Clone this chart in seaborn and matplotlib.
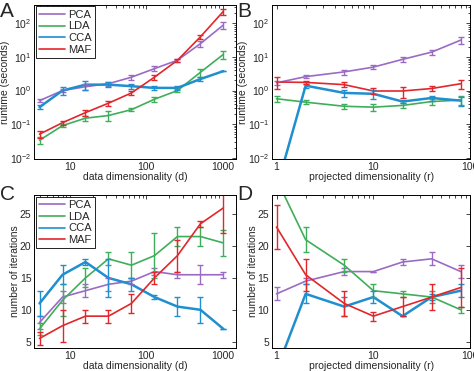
import numpy as np
import pandas as pd
import matplotlib
matplotlib.use('Agg')
import matplotlib.pyplot as plt
import seaborn as sns

methods = ['PCA', 'LDA', 'CCA', 'MAF']
colors = {'PCA': '#9b6bc4', 'LDA': '#3fae5a', 'CCA': '#1f8fcf', 'MAF': '#e3262b'}

d_vals = [4, 8, 16, 32, 64, 128, 256, 512, 1024]
r_vals = [1, 2, 5, 10, 20, 40, 80]

# A: runtime vs data dimensionality
rt_d = {
    'PCA': [0.5, 1.0, 1.3, 1.6, 2.5, 4.5, 8, 25, 90],
    'LDA': [0.033, 0.09, 0.15, 0.18, 0.27, 0.55, 1.0, 3.5, 12],
    'CCA': [0.32, 1.0, 1.5, 1.5, 1.35, 1.2, 1.2, 2.2, 3.8],
    'MAF': [0.05, 0.11, 0.22, 0.42, 0.85, 2.5, 8, 40, 230],
}
rt_d_err = {
    'PCA': [0.05, 0.1, 0.25, 0.25, 0.4, 0.8, 1, 5, 20],
    'LDA': [0.008, 0.01, 0.03, 0.06, 0.03, 0.1, 0.1, 1.0, 3.5],
    'CCA': [0.04, 0.25, 0.45, 0.25, 0.25, 0.15, 0.15, 0.3, 0.1],
    'MAF': [0.012, 0.015, 0.04, 0.08, 0.1, 0.5, 1, 6, 45],
}

# B: runtime vs projected dimensionality
rt_r = {
    'PCA': [1.7, 2.6, 3.6, 5, 8.5, 14, 32],
    'LDA': [0.57, 0.45, 0.34, 0.32, 0.36, 0.47, 0.52],
    'CCA': [0.0012, 1.4, 0.85, 0.8, 0.47, 0.6, 0.5],
    'MAF': [1.8, 1.75, 1.5, 0.97, 0.97, 1.15, 1.6],
}
rt_r_err = {
    'PCA': [0.2, 0.3, 0.6, 0.6, 1.3, 2.5, 7],
    'LDA': [0.1, 0.06, 0.05, 0.07, 0.06, 0.1, 0.15],
    'CCA': [0, 0.2, 0.2, 0.25, 0.05, 0.1, 0.15],
    'MAF': [0.7, 0.2, 0.25, 0.2, 0.35, 0.2, 0.5],
}

# C: iterations vs data dimensionality
it_d = {
    'PCA': [8, 12, 13, 14, 14.5, 16, 15.5, 15.5, 15.5],
    'LDA': [7, 11.5, 15, 18, 17, 18.5, 21.5, 21.5, 20.5],
    'CCA': [11, 15.5, 17.5, 15, 14, 12, 10.5, 10, 7],
    'MAF': [5.5, 7.5, 9, 9, 11, 15, 18.5, 23.5, 26],
}
it_d_err = {
    'PCA': [1, 1, 1, 1, 0.5, 0.5, 0.5, 1.5, 0.5],
    'LDA': [1, 2.5, 1.5, 1, 2, 3.5, 1.5, 1.5, 2],
    'CCA': [2, 1.5, 0.5, 3, 1, 0.3, 1.5, 2, 0],
    'MAF': [1, 2.5, 1, 1, 1.5, 1, 2.5, 0.5, 4],
}

# D: iterations vs projected dimensionality
it_r = {
    'PCA': [12.5, 14.5, 16, 16, 17.5, 18, 16],
    'LDA': [30.5, 21, 17, 13, 12.5, 12, 10],
    'CCA': [0.5, 12.5, 10.5, 12, 9, 12, 13],
    'MAF': [23, 15.5, 11, 9, 10.5, 12, 13.5],
}
it_r_err = {
    'PCA': [1, 0.5, 0.5, 0, 0.5, 1, 1],
    'LDA': [0, 2, 1, 1, 0.5, 1, 0.5],
    'CCA': [0, 1.5, 1.5, 1, 0, 0.5, 1],
    'MAF': [3.5, 2.5, 2, 0.7, 1.5, 2, 3],
}

sns.set_style('white')
plt.rcParams['font.family'] = ['Liberation Sans', 'DejaVu Sans']
plt.rcParams['font.size'] = 7.5
plt.rcParams['mathtext.fontset'] = 'custom'
plt.rcParams['mathtext.rm'] = 'Liberation Sans'


def to_long(xs, vals, errs):
    rows = []
    for m in methods:
        for x, y, e in zip(xs, vals[m], errs[m]):
            rows.append({'x': x, 'y': y, 'err': e, 'method': m})
    return pd.DataFrame(rows)


def panel(ax, df, logy, xlabel, ylabel, xlim, ylim, legend):
    sns.lineplot(data=df, x='x', y='y', hue='method', hue_order=methods,
                 palette=colors, ax=ax, legend=legend, linewidth=1.2)
    for line, m in zip(ax.get_lines(), methods):
        if m == 'CCA':
            line.set_linewidth(1.8)
    for m in methods:
        sub = df[df['method'] == m]
        ax.errorbar(sub['x'], sub['y'], yerr=sub['err'], fmt='none',
                    ecolor=colors[m], elinewidth=1.0, capsize=2.2, capthick=1.0)
    ax.set_xscale('log')
    if logy:
        ax.set_yscale('log')
    ax.set_xlim(*xlim)
    ax.set_ylim(*ylim)
    ax.set_xlabel(xlabel, labelpad=0)
    ax.set_ylabel(ylabel, labelpad=0)
    ax.tick_params(which='both', direction='in', top=True, right=True,
                   labelsize=7.5, pad=2, width=0.6)
    ax.tick_params(which='major', length=3)
    ax.tick_params(which='minor', length=1.8)
    for s in ax.spines.values():
        s.set_color('black')
        s.set_linewidth(0.7)
    if legend:
        leg = ax.legend(loc='upper left', fontsize=8, handlelength=2.3,
                        labelspacing=0.15, borderpad=0.3, borderaxespad=0.15,
                        handletextpad=0.3, fancybox=False, framealpha=1)
        leg.get_frame().set_edgecolor('black')
        leg.get_frame().set_linewidth(0.6)
        for h in leg.get_lines():
            h.set_linewidth(1.2)
    elif ax.get_legend() is not None:
        ax.get_legend().remove()


fig = plt.figure(figsize=(4.74, 3.71), dpi=100)
axA = fig.add_axes([0.072, 0.571, 0.426, 0.416])
axB = fig.add_axes([0.574, 0.571, 0.418, 0.416])
axC = fig.add_axes([0.072, 0.062, 0.426, 0.412])
axD = fig.add_axes([0.574, 0.062, 0.418, 0.412])

panel(axA, to_long(d_vals, rt_d, rt_d_err), True, 'data dimensionality (d)',
      'runtime (seconds)', (3.4, 1500), (0.009, 360), True)
panel(axB, to_long(r_vals, rt_r, rt_r_err), True, 'projected dimensionality (r)',
      'runtime (seconds)', (0.9, 100), (0.009, 360), False)
panel(axC, to_long(d_vals, it_d, it_d_err), False, 'data dimensionality (d)',
      'number of iterations', (3.4, 1500), (4, 28), True)
panel(axD, to_long(r_vals, it_r, it_r_err), False, 'projected dimensionality (r)',
      'number of iterations', (0.9, 100), (4, 28), False)

for ax in (axA, axC):
    ax.set_xticks([10, 100, 1000])
    ax.set_xticklabels(['10', '100', '1000'])
for ax in (axB, axD):
    ax.set_xticks([1, 10, 100])
    ax.set_xticklabels(['1', '10', '100'])
for ax in (axC, axD):
    ax.set_yticks([5, 10, 15, 20, 25])
for ax in (axA, axB):
    ax.set_yticks([1e-2, 1e-1, 1, 10, 100])

for lab, x, y in [('A', 0.0, 0.995), ('B', 0.50, 0.995),
                  ('C', 0.0, 0.50), ('D', 0.50, 0.50)]:
    fig.text(x, y, lab, fontsize=15, va='top', ha='left')

fig.savefig('out.png', dpi=100)
